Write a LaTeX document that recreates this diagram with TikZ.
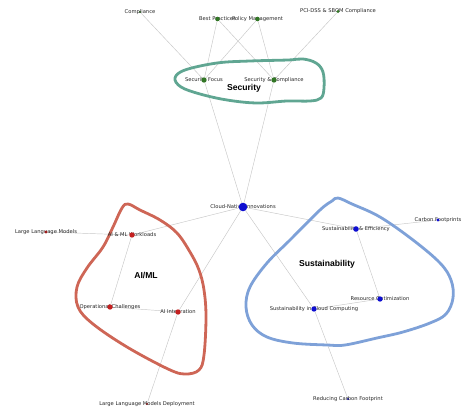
\documentclass[tikz,border=0pt]{standalone}
\usepackage{fontspec}
\newfontfamily\dejavu{DejaVu Sans}
\newfontfamily\grpfont{Liberation Sans}
\usetikzlibrary{backgrounds}

\definecolor{secgreen}{RGB}{50,118,38}
\definecolor{aired}{RGB}{196,32,32}
\definecolor{susblue}{RGB}{14,14,208}
\definecolor{secblob}{RGB}{96,166,146}
\definecolor{aiblob}{RGB}{206,102,86}
\definecolor{susblob}{RGB}{126,161,216}

\tikzset{
    lbl/.style={font=\dejavu\fontsize{5.2}{6}\selectfont, text=black!85, inner sep=0pt},
    grp/.style={font=\grpfont\bfseries\fontsize{8.6}{10}\selectfont, inner sep=0pt},
    dotnode/.style={circle, inner sep=0pt, minimum size=#1},
    link/.style={draw=black!22, line width=0.45pt},
    blob/.style={line width=2.8pt, line join=round}
}

\begin{document}
\begin{tikzpicture}[x=1pt, y=-1pt]
                    \useasboundingbox (0,0) rectangle (474,414);

                    % Security:
                    \node[lbl] (compl-t) at (140,12) {Compliance};
                    \node[dotnode=2.4pt, fill=secgreen!70!black] (compl) at (140,12) {};
                    \node[lbl] (bestp-t) at (217.5,19) {Best Practices};
                    \node[dotnode=4.6pt, fill=secgreen] (bestp) at (217.5,19) {};
                    \node[lbl] (policy-t) at (257.5,19) {Policy Management};
                    \node[dotnode=4.6pt, fill=secgreen] (policy) at (257.5,19) {};
                    \node[lbl] (pci-t) at (338,11.5) {PCI-DSS \& SBOM Compliance};
                    \node[dotnode=3.4pt, fill=secgreen] (pci) at (338,11.5) {};
                    \node[lbl] (secfocus-t) at (204,80) {Security Focus};
                    \node[dotnode=5.4pt, fill=secgreen] (secfocus) at (204,80) {};
                    \node[lbl] (seccomp-t) at (274,80) {Security \& Compliance};
                    \node[dotnode=5.4pt, fill=secgreen] (seccomp) at (274,80) {};

                    % Hub:
                    \node[lbl] (cloud-t) at (243,207) {Cloud-Native Innovations};
                    \node[dotnode=8.6pt, fill=susblue] (cloud) at (243,207) {};

                    % AI/ML:
                    \node[lbl] (llm-t) at (46,232) {Large Language Models};
                    \node[dotnode=3.4pt, fill=aired!80!black] (llm) at (46,232) {};
                    \node[lbl] (aiml-t) at (132,235) {AI \& ML Workloads};
                    \node[dotnode=5.4pt, fill=aired] (aiml) at (132,235) {};
                    \node[lbl] (opch-t) at (110,307) {Operational Challenges};
                    \node[dotnode=5.4pt, fill=aired] (opch) at (110,307) {};
                    \node[lbl] (aiint-t) at (178,312) {AI Integration};
                    \node[dotnode=5.4pt, fill=aired] (aiint) at (178,312) {};
                    \node[lbl] (llmdep-t) at (147,404) {Large Language Models Deployment};
                    \node[dotnode=2.4pt, fill=aired!60!black] (llmdep) at (147,404) {};

                    % Sustainability:
                    \node[lbl] (suseff-t) at (356,229) {Sustainability \& Efficiency};
                    \node[dotnode=5.6pt, fill=susblue] (suseff) at (356,229) {};
                    \node[lbl] (carbon-t) at (438,220) {Carbon Footprints};
                    \node[dotnode=3.4pt, fill=susblue] (carbon) at (438,220) {};
                    \node[lbl] (resopt-t) at (380,299) {Resource Optimization};
                    \node[dotnode=5.4pt, fill=susblue] (resopt) at (380,299) {};
                    \node[lbl] (suscloud-t) at (314,309) {Sustainability in Cloud Computing};
                    \node[dotnode=5.4pt, fill=susblue] (suscloud) at (314,309) {};
                    \node[lbl] (reduce-t) at (348,399) {Reducing Carbon Footprint};
                    \node[dotnode=2.4pt, fill=susblue!60!black] (reduce) at (348,399) {};

                    % Group names:
                    \node[grp] (secgrp) at (244,88) {Security};
                    \node[grp] (aigrp) at (146,275) {AI/ML};
                    \node[grp] (susgrp) at (327,264) {Sustainability};

                    \begin{scope}[on background layer]
                    % Links:
                    \draw[link] (compl) -- (secfocus);
                    \draw[link] (bestp) -- (secfocus);
                    \draw[link] (bestp) -- (seccomp);
                    \draw[link] (policy) -- (secfocus);
                    \draw[link] (policy) -- (seccomp);
                    \draw[link] (pci) -- (seccomp);
                    \draw[link] (secfocus) -- (cloud);
                    \draw[link] (seccomp) -- (cloud);
                    \draw[link] (cloud) -- (aiml);
                    \draw[link] (cloud) -- (aiint);
                    \draw[link] (cloud) -- (suseff);
                    \draw[link] (cloud) -- (suscloud);
                    \draw[link] (llm) -- (aiml);
                    \draw[link] (aiml) -- (opch);
                    \draw[link] (opch) -- (aiint);
                    \draw[link] (aiint) -- (llmdep);
                    \draw[link] (suseff) -- (carbon);
                    \draw[link] (suseff) -- (resopt);
                    \draw[link] (resopt) -- (suscloud);
                    \draw[link] (suscloud) -- (reduce);

                    % Outlines:
                    \draw[blob, secblob] plot[smooth cycle, tension=0.6] coordinates {
                        (175,78) (185,70) (217,63) (250,61) (288,60) (303,59) (316,63) (323,72)
                        (324,88) (321,98) (310,101) (287,101) (257,103) (227,100) (200,94) (181,87)};
                    \draw[blob, aiblob] plot[smooth cycle, tension=0.6] coordinates {
                        (128,204) (140,210) (160,220) (177,233) (190,252) (199,270) (204,290) (206,317)
                        (204,355) (199,370) (185,374) (168,369) (127,347) (93,324) (78,307) (77,287)
                        (87,268) (103,247) (113,227) (122,208)};
                    \draw[blob, susblob] plot[smooth cycle, tension=0.6] coordinates {
                        (338,198) (352,204) (380,217) (413,240) (440,263) (451,280) (453,298) (446,314)
                        (430,323) (403,332) (377,338) (345,345) (327,345) (293,343) (267,337) (252,325)
                        (246,307) (250,287) (267,263) (290,240) (320,210) (332,201)};
                    \end{scope}
                \end{tikzpicture}
\end{document}
